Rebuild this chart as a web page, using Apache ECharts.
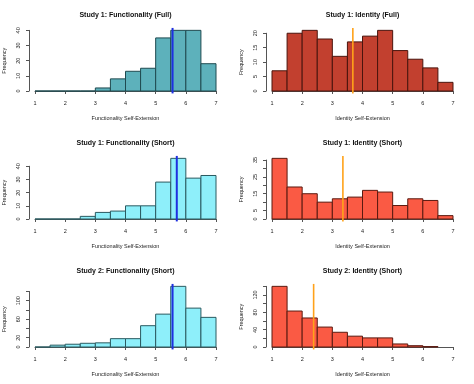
<!DOCTYPE html>
<html><head><meta charset="utf-8">
<script src="https://cdn.jsdelivr.net/npm/echarts@6/dist/echarts.min.js"></script>
<style>html,body{margin:0;padding:0;background:#fff}#c{width:474px;height:384px}</style>
</head><body><div id="c"></div>
<script>
// ---- data ----
const titles = ['Study 1: Functionality (Full)', 'Study 1: Identity (Full)',
  'Study 1: Functionality (Short)', 'Study 1: Identity (Short)',
  'Study 2: Functionality (Short)', 'Study 2: Identity (Short)'];
const xNames = ['Functionality Self-Extension', 'Identity Self-Extension',
  'Functionality Self-Extension', 'Identity Self-Extension',
  'Functionality Self-Extension', 'Identity Self-Extension'];
const binBreaks = [1, 1.5, 2, 2.5, 3, 3.5, 4, 4.5, 5, 5.5, 6, 6.5, 7];
const countsFuncFull1 = [0, 0, 0, 0, 2, 8, 13, 15, 35, 40, 40, 18];
const countsIdFull1 = [7, 20, 21, 18, 12, 17, 19, 21, 14, 11, 8, 3];
const countsFuncShort1 = [0, 0, 0, 2, 5, 6, 10, 10, 28, 46, 31, 33];
const countsIdShort1 = [36, 19, 15, 10, 12, 13, 17, 16, 8, 12, 11, 2];
const countsFuncShort2 = [0, 4, 6, 8, 9, 18, 18, 46, 71, 131, 84, 64];
const countsIdShort2 = [140, 83, 67, 46, 34, 25, 21, 21, 7, 3, 1];
const means = [5.56, 3.68, 5.70, 3.35, 5.56, 2.38];
const xTicks = [1, 2, 3, 4, 5, 6, 7];
const yTickMax = [40, 20, 40, 35, 120, 140];
const yTickStep = [10, 5, 10, 5, 20, 20];
const yTickLabels = [[0, 10, 20, 30, 40], [0, 5, 10, 15, 20], [0, 10, 20, 30, 40],
  [0, 5, 15, 25, 35], [0, 20, 60, 100], [0, 40, 80, 120]];

const allCounts = [countsFuncFull1, countsIdFull1, countsFuncShort1, countsIdShort1, countsFuncShort2, countsIdShort2];
const fills = ['#5DB1BB', '#C2402F', '#8EEFFA', '#FA5A44', '#8EEFFA', '#FA5A44'];
const strokes = ['#1F4A50', '#4A140D', '#2A5A60', '#5A1A10', '#2A5A60', '#5A1A10'];
const meanColors = ['#1E2FE0', '#FFA21A', '#1E2FE0', '#FFA21A', '#1E2FE0', '#FFA21A'];
const meanWidths = [2, 1.6, 2, 1.6, 2, 1.6];

const chart = echarts.init(document.getElementById('c'), null, {renderer: 'canvas'});
const grids = [], xAxes = [], yAxes = [], series = [], graphics = [];
const axisColor = '#555';
const textColor = '#222';
const font = 'Liberation Sans, Arial, sans-serif';
const regionInner = 60.65; // px from 0 to max count

allCounts.forEach((counts, i) => {
  const r = Math.floor(i / 2), c = i % 2;
  const M = Math.max(...counts);
  const s = regionInner / M;
  const left = 35 + 237 * c, width = 181;
  const zero = 91 + 128 * r;
  const h = yTickMax[i] * s;
  grids.push({left: left, top: zero - h, width: width, height: h, containLabel: false});
  xAxes.push({
    gridIndex: i, type: 'value', min: 1, max: 7, interval: 1, offset: 3,
    axisLine: {show: true, lineStyle: {color: axisColor, width: 1}},
    axisTick: {show: true, length: 3, lineStyle: {color: axisColor}},
    splitLine: {show: false},
    axisLabel: {fontSize: 5.5, color: textColor, margin: 6, fontFamily: font},
    name: xNames[i], nameLocation: 'middle', nameGap: 21,
    nameTextStyle: {fontSize: 5.5, color: textColor, fontFamily: font}
  });
  const shown = yTickLabels[i];
  yAxes.push({
    gridIndex: i, type: 'value', min: 0, max: yTickMax[i], interval: yTickStep[i], offset: 6,
    axisLine: {show: true, lineStyle: {color: axisColor, width: 1}},
    axisTick: {show: true, length: 3, lineStyle: {color: axisColor}},
    splitLine: {show: false},
    axisLabel: {fontSize: 5.5, color: textColor, margin: 8, rotate: 90, fontFamily: font,
      formatter: v => shown.indexOf(v) >= 0 ? String(v) : ''},
    name: 'Frequency', nameLocation: 'middle', nameGap: 22, nameRotate: 90,
    nameTextStyle: {fontSize: 5.5, color: textColor, fontFamily: font}
  });
  const binData = counts.map((v, k) => [binBreaks[k], binBreaks[k + 1], v]);
  series.push({
    type: 'custom', xAxisIndex: i, yAxisIndex: i, clip: false, silent: true,
    data: binData,
    encode: {x: [0, 1], y: 2},
    renderItem: (params, api) => {
      const p0 = api.coord([api.value(0), api.value(2)]);
      const p1 = api.coord([api.value(1), 0]);
      return {type: 'rect', shape: {x: p0[0], y: p0[1], width: p1[0] - p0[0], height: p1[1] - p0[1]},
        style: {fill: fills[i], stroke: strokes[i], lineWidth: 1}};
    }
  });
  series.push({
    type: 'custom', xAxisIndex: i, yAxisIndex: i, clip: false, silent: true, z: 5,
    data: [[means[i]]],
    encode: {x: 0},
    renderItem: (params, api) => {
      const m = api.value(0);
      const a = api.coord([m, -0.04 * M]);
      const b = api.coord([m, 1.04 * M]);
      return {type: 'line', shape: {x1: a[0], y1: a[1], x2: b[0], y2: b[1]},
        style: {stroke: meanColors[i], lineWidth: meanWidths[i]}};
    }
  });
  graphics.push({type: 'text', x: left + width / 2, y: 15 + 128 * r,
    style: {text: titles[i], align: 'center', verticalAlign: 'middle',
      font: 'bold 7px Liberation Sans, Arial, sans-serif', fill: '#111'}});
});

chart.setOption({
  animation: false,
  backgroundColor: '#fff',
  grid: grids, xAxis: xAxes, yAxis: yAxes, series: series, graphic: graphics
});
</script></body></html>
